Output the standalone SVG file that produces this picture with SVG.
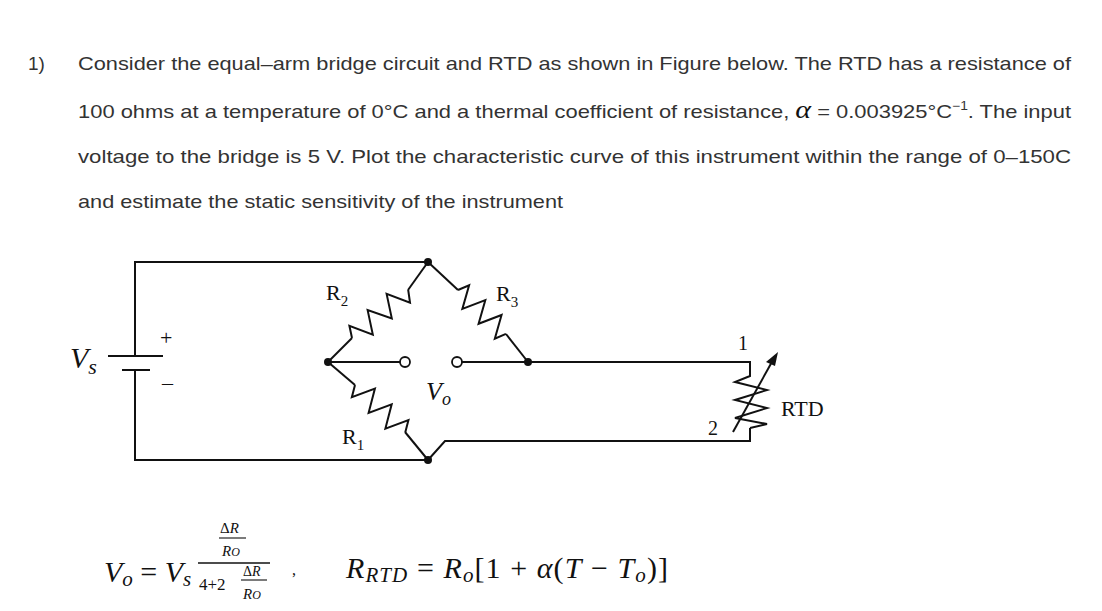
<svg xmlns="http://www.w3.org/2000/svg" width="1102" height="611" viewBox="0 0 1102 611">
<style>
.t{font-family:"Liberation Sans",Arial,sans-serif;font-size:19px;fill:#333}
.w{fill:none;stroke:#111;stroke-width:2;stroke-linejoin:miter}
.s{font-family:"Liberation Serif","Times New Roman",serif;fill:#111}
.i{font-style:italic}
.d{fill:#111}
</style>
<rect width="1102" height="611" fill="#fff"/>
<g id="text">
<text class="t" x="28" y="70" font-size="17">1)</text>
<text class="t" x="78" y="70" textLength="993" lengthAdjust="spacingAndGlyphs">Consider the equal–arm bridge circuit and RTD as shown in Figure below.  The RTD has a resistance of</text>
<text class="t" x="78" y="118" textLength="993" lengthAdjust="spacingAndGlyphs">100 ohms at a temperature of 0°C and a thermal coefficient of resistance, <tspan class="s i" font-size="26" fill="#223">α</tspan> = 0.003925°C<tspan font-size="12" dy="-8">−1</tspan><tspan dy="8">. The input</tspan></text>
<text class="t" x="78" y="163" textLength="993" lengthAdjust="spacingAndGlyphs">voltage to the bridge is 5 V.  Plot the characteristic curve of this instrument within the range of 0–150C</text>
<text class="t" x="78" y="208" textLength="485" lengthAdjust="spacingAndGlyphs">and estimate the static sensitivity of the instrument</text>
</g>
<g id="connectors">
<polyline class="w" points="428,262 135,262 135,356"/>
<polyline class="w" points="135,370 135,460 428,460"/>
<polyline class="w" points="328,362 400,362"/>
<polyline class="w" points="462,362 750,362 750,372"/>
<polyline class="w" points="428,460 445,441 750,441 750,428"/>
</g>
<g id="battery">
<line class="w" x1="108" y1="356" x2="163" y2="356"/>
<line class="w" x1="122" y1="370" x2="150" y2="370"/>
<text class="s i" x="70" y="368" font-size="30">V<tspan font-size="22" dy="6">s</tspan></text>
<text class="s" x="160" y="345" font-size="22">+</text>
<text class="s" x="162" y="390" font-size="22">–</text>
</g>
<g id="R2">
<line class="w" x1="328" y1="362" x2="352" y2="338"/>
<line class="w" x1="408" y1="290" x2="428" y2="262"/>
<polyline class="w" transform="translate(352,338) rotate(-40.6)" points="0,0 6,-11 18,11 30,-11 43,11 55,-11 67,11 74,0"/>
<text class="s" x="326" y="300" font-size="22">R<tspan font-size="15" dy="6">2</tspan></text>
</g>
<g id="R3">
<line class="w" x1="428" y1="262" x2="458" y2="290"/>
<line class="w" x1="506" y1="334" x2="528" y2="362"/>
<polyline class="w" transform="translate(458,290) rotate(42.5)" points="0,0 5,-11 16,11 27,-11 38,11 49,-11 60,11 65,0"/>
<text class="s" x="496" y="301" font-size="22">R<tspan font-size="15" dy="6">3</tspan></text>
</g>
<g id="R1">
<line class="w" x1="328" y1="362" x2="355" y2="385"/>
<line class="w" x1="405" y1="432" x2="428" y2="460"/>
<polyline class="w" transform="translate(355,385) rotate(43.2)" points="0,0 6,11 17,-11 29,11 40,-11 52,11 63,-11 69,0"/>
<text class="s" x="342" y="444" font-size="22">R<tspan font-size="15" dy="6">1</tspan></text>
</g>
<g id="nodes">
<circle class="d" cx="428" cy="262" r="4"/>
<circle class="d" cx="328" cy="362" r="4"/>
<circle class="d" cx="528" cy="362" r="4"/>
<circle class="d" cx="428" cy="460" r="4"/>
<circle cx="405" cy="362" r="5" fill="#fff" stroke="#111" stroke-width="1.8"/>
<circle cx="457" cy="362" r="5" fill="#fff" stroke="#111" stroke-width="1.8"/>
<text class="s i" x="426" y="400" font-size="26">V<tspan font-size="18" dy="5">o</tspan></text>
</g>
<g id="RTD">
<polyline class="w" points="750,372 750,376 735,382 767,390 735,400 767,408 735,418 767,424 750,428"/>
<line class="w" x1="733" y1="432" x2="773" y2="360"/>
<polygon class="d" points="778,352 766,362 775,366"/>
<text class="s" x="738" y="350" font-size="20">1</text>
<text class="s" x="708" y="435" font-size="20">2</text>
<text class="s" x="781" y="416" font-size="22">RTD</text>
</g>
<g id="equations">
<text class="s i" x="104" y="582" font-size="30">V<tspan font-size="21" dy="4">o</tspan><tspan dy="-4" font-style="normal"> = </tspan>V<tspan font-size="21" dy="4">s</tspan></text>
<text class="s i" x="220" y="533" font-size="15"><tspan font-style="normal">Δ</tspan>R</text>
<line x1="219" y1="538" x2="246" y2="538" stroke="#333" stroke-width="1.3"/>
<text class="s i" x="222" y="556" font-size="15">R<tspan font-size="12">O</tspan></text>
<line x1="198" y1="563" x2="270" y2="563" stroke="#111" stroke-width="1.5"/>
<text class="s" x="199" y="590" font-size="17">4+2</text>
<text class="s i" x="243" y="576" font-size="14"><tspan font-style="normal">Δ</tspan>R</text>
<line x1="241" y1="580" x2="267" y2="580" stroke="#333" stroke-width="1.3"/>
<text class="s i" x="243" y="599" font-size="15">R<tspan font-size="12">O</tspan></text>
<text class="s" x="292" y="575" font-size="16">,</text>
<text class="s i" x="346" y="578" font-size="30" textLength="322" lengthAdjust="spacing">R<tspan font-size="21" dy="4">RTD</tspan><tspan dy="-4" font-style="normal"> = </tspan>R<tspan font-size="21" dy="4">o</tspan><tspan dy="-4" font-style="normal">[1 + </tspan>α<tspan font-style="normal">(</tspan>T<tspan font-style="normal"> − </tspan>T<tspan font-size="21" dy="4">o</tspan><tspan dy="-4" font-style="normal">)]</tspan></text>
</g>
</svg>
